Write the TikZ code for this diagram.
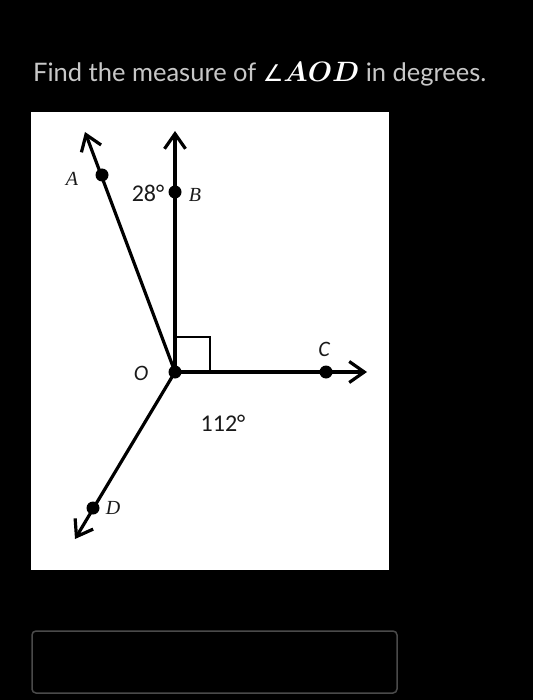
\RequirePackage{fix-cm}
\documentclass[tikz,border=0pt]{standalone}
\usepackage{fontspec}
\setmainfont{Lato}
\newfontfamily\calib{Carlito}
\newfontfamily\serifit{Liberation Serif}
\newfontfamily\dejavu{DejaVu Sans}
\usetikzlibrary{arrows.meta}
\definecolor{titlegray}{HTML}{C8C8C8}
\definecolor{boxborder}{HTML}{4A4A4A}
\definecolor{labelink}{HTML}{1A1A1A}
\tikzset{
  ray/.style={line width=3.2pt, -{Straight Barb[length=15pt,width=21pt]}},
  dotpt/.style={circle, fill=black, inner sep=0pt, minimum size=13pt},
  seriflab/.style={font=\serifit\itshape\fontsize{20}{20}\selectfont, text=labelink, inner sep=0pt},
  sanslab/.style={font=\calib\itshape\fontsize{22}{22}\selectfont, text=labelink, inner sep=0pt},
  numlab/.style={font=\calib\fontsize{24}{24}\selectfont, text=labelink, inner sep=0pt},
}
\begin{document}
\begin{tikzpicture}[x=1pt,y=-1pt]
  \fill[black] (0,0) rectangle (533,700);
  \useasboundingbox (0,0) rectangle (533,700);
  % title
  \node[anchor=base west, inner sep=0pt, text=titlegray, font=\fontsize{25.5}{30}\selectfont] (title) at (33,82)
    {Find the measure of {\color{white}{\dejavu\fontsize{23}{30}\selectfont ∠}\fontsize{28}{32}\selectfont\boldmath$AOD$} in degrees.};
  % figure panel
  \fill[white] (31,112) rectangle (389,570);
  % points
  \node[dotpt] (O) at (175,372) {};
  \node[dotpt] (A) at (102,175) {};
  \node[dotpt] (B) at (175,192) {};
  \node[dotpt] (C) at (326,372) {};
  \node[dotpt] (D) at (93,508) {};
  \coordinate (Atip) at (85,132);
  \coordinate (Btip) at (175,131);
  \coordinate (Ctip) at (367,372);
  \coordinate (Dtip) at (75,539);
  % rays
  \draw[ray] (O.center) -- (Atip);
  \draw[ray] (O.center) -- (Btip);
  \draw[ray] (O.center) -- (Ctip);
  \draw[ray] (O.center) -- (Dtip);
  % right angle mark
  \draw[line width=2.6pt] (175,337) -- (210,337) -- (210,372);
  % labels
  \node[seriflab] (Alab) at (72,179) {A};
  \node[seriflab] (Blab) at (195,195) {B};
  \node[seriflab] (Dlab) at (113,508) {D};
  \node[sanslab] (Olab) at (141,373) {O};
  \node[sanslab] (Clab) at (324,349) {C};
  \node[numlab] (a28) at (148,193) {28°};
  \node[numlab] (a112) at (223,423) {112°};
  % answer box
  \draw[boxborder, line width=1.5pt, rounded corners=4pt] (32,631) rectangle (397,693);
\end{tikzpicture}
\end{document}
